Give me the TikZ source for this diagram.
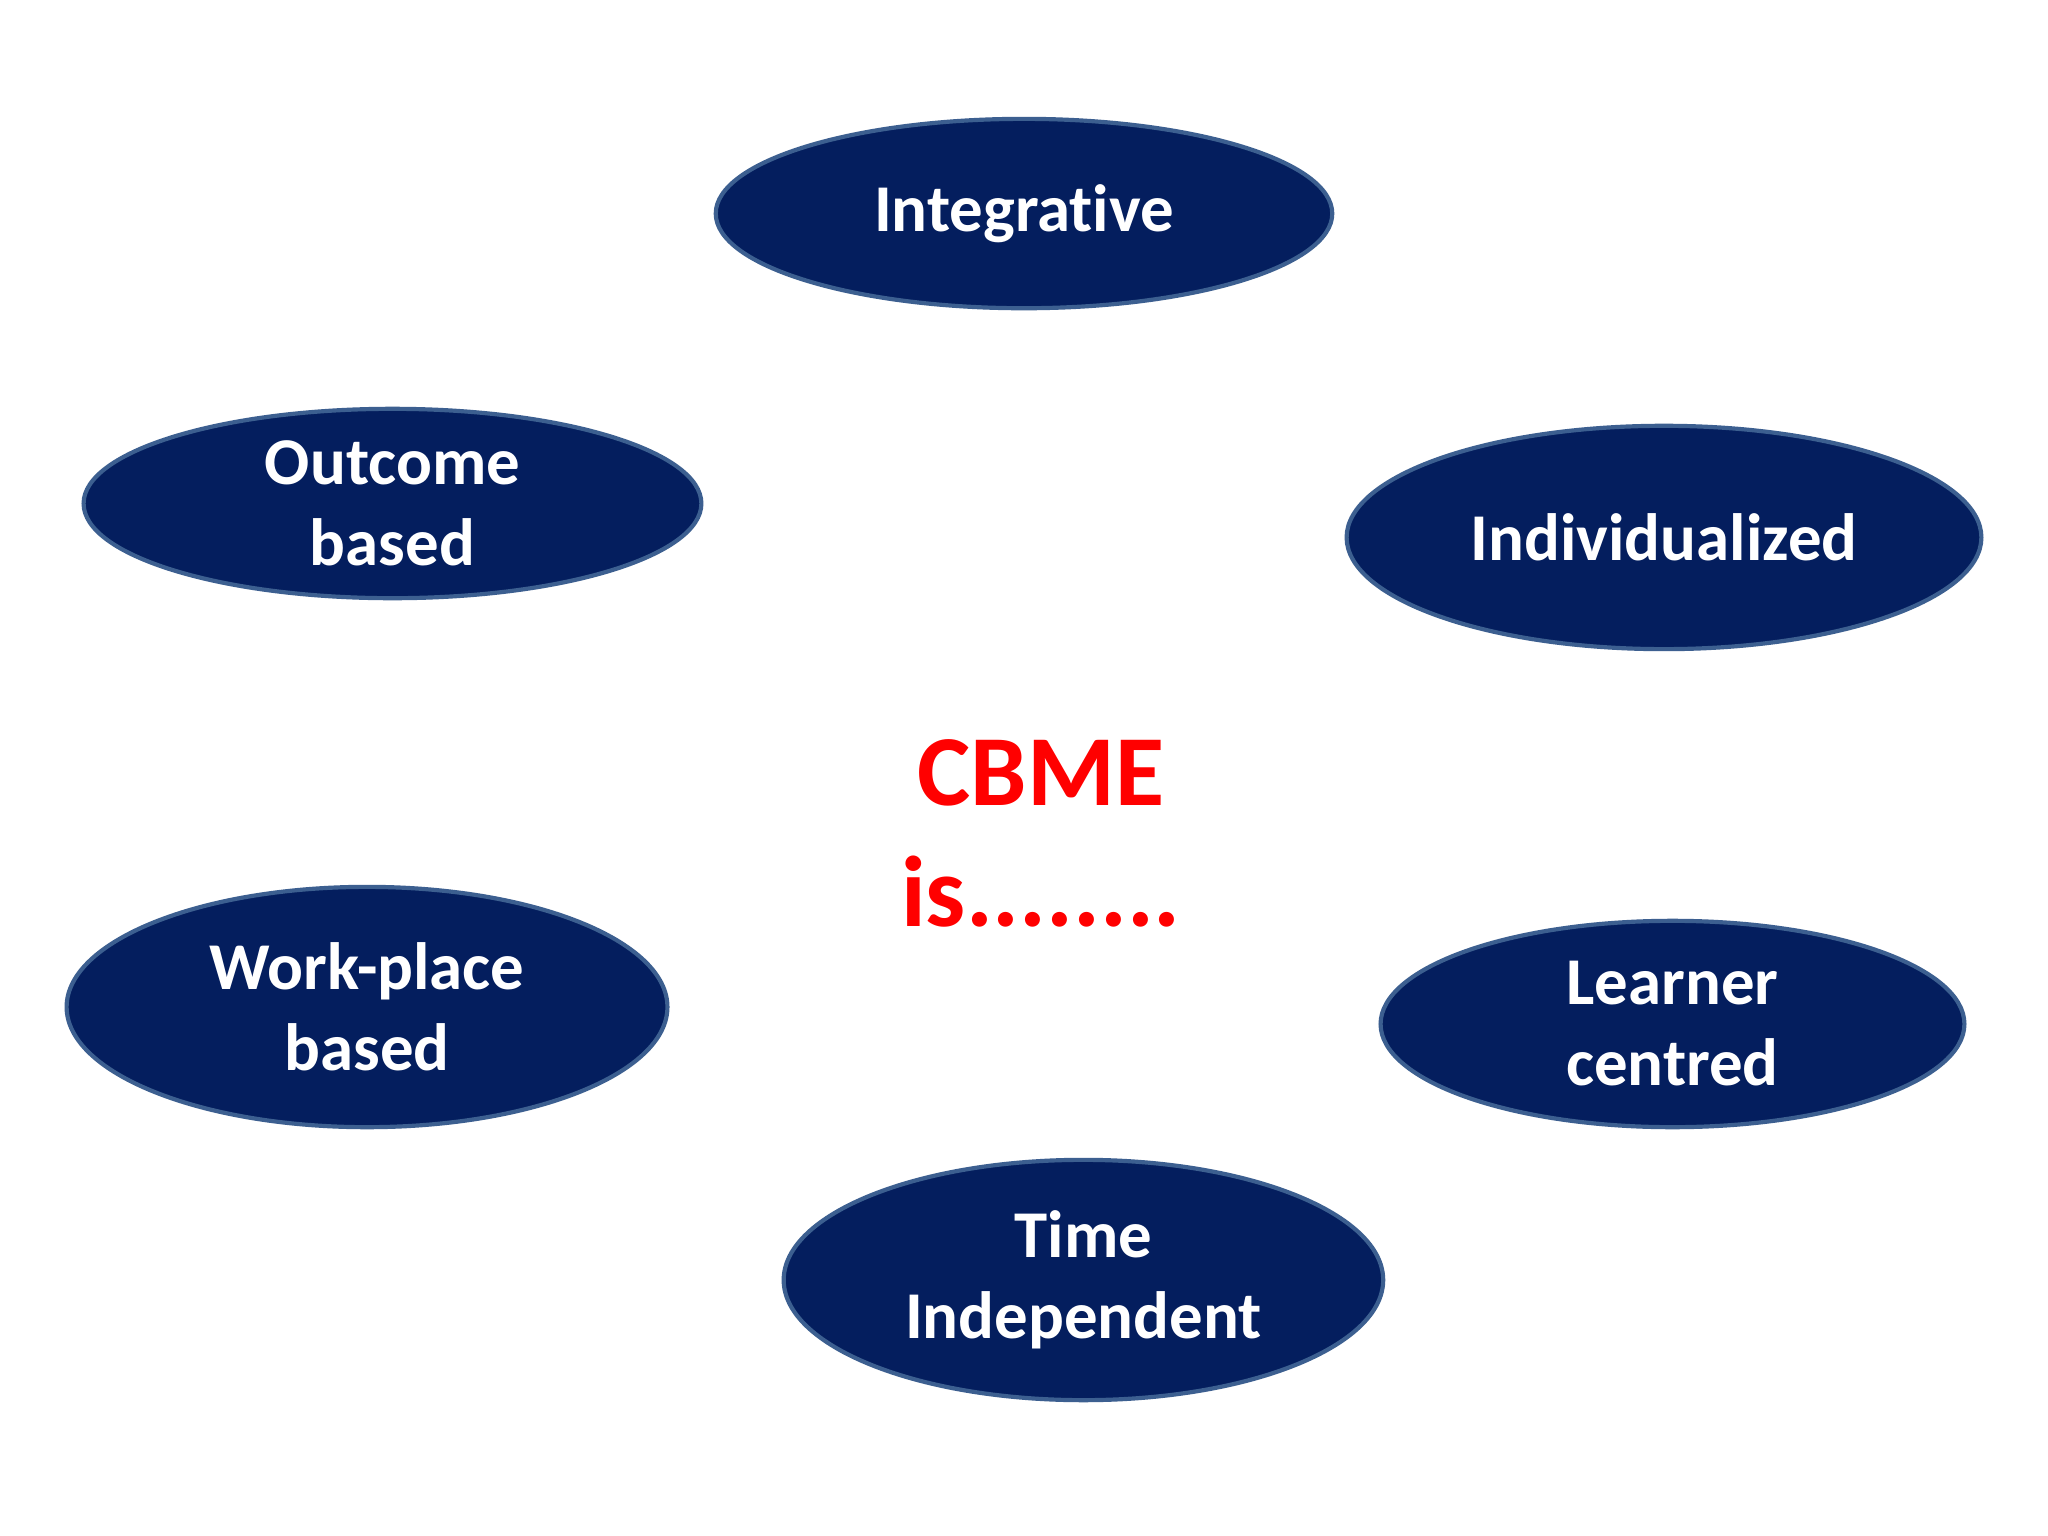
\documentclass[tikz,border=0pt]{standalone}
\usepackage{fontspec}
\setmainfont{Carlito}[Ligatures={NoCommon}]
\usetikzlibrary{shapes.geometric}
\definecolor{navy}{HTML}{041E5E}
\definecolor{rim}{HTML}{3C5F90}
\definecolor{cred}{HTML}{FF0000}
\tikzset{
  oval/.style={ellipse, fill=navy, draw=rim, line width=1.6pt, inner sep=0pt,
    text=white, font=\fontsize{25.6}{31}\selectfont\bfseries, align=center},
  title/.style={text=cred, font=\fontsize{38.5}{46.5}\selectfont\bfseries, align=center}
}
\begin{document}
\begin{tikzpicture}[x=0.5pt,y=-0.5pt]
\useasboundingbox[fill=white] (0,0) rectangle (1568,1176);
\node[oval, minimum width=236pt, minimum height=72.5pt] (integ) at (784,163.5) {Integrative};
\node[oval, minimum width=236.5pt, minimum height=72.5pt] (outc) at (300.5,385.5) {Outcome\\based};
\node[oval, minimum width=243pt, minimum height=85.5pt] (indiv) at (1274,411.5) {Individualized};
\node[oval, minimum width=230pt, minimum height=92pt] (work) at (281,771) {Work-place\\based};
\node[oval, minimum width=223.5pt, minimum height=79pt] (learn) at (1280.5,784) {Learner\\centred};
\node[oval, minimum width=229.5pt, minimum height=92pt] (time) at (829.5,980) {Time\\Independent};
\node[title] (cbme) at (797,638) {CBME\\is........};
\end{tikzpicture}
\end{document}
